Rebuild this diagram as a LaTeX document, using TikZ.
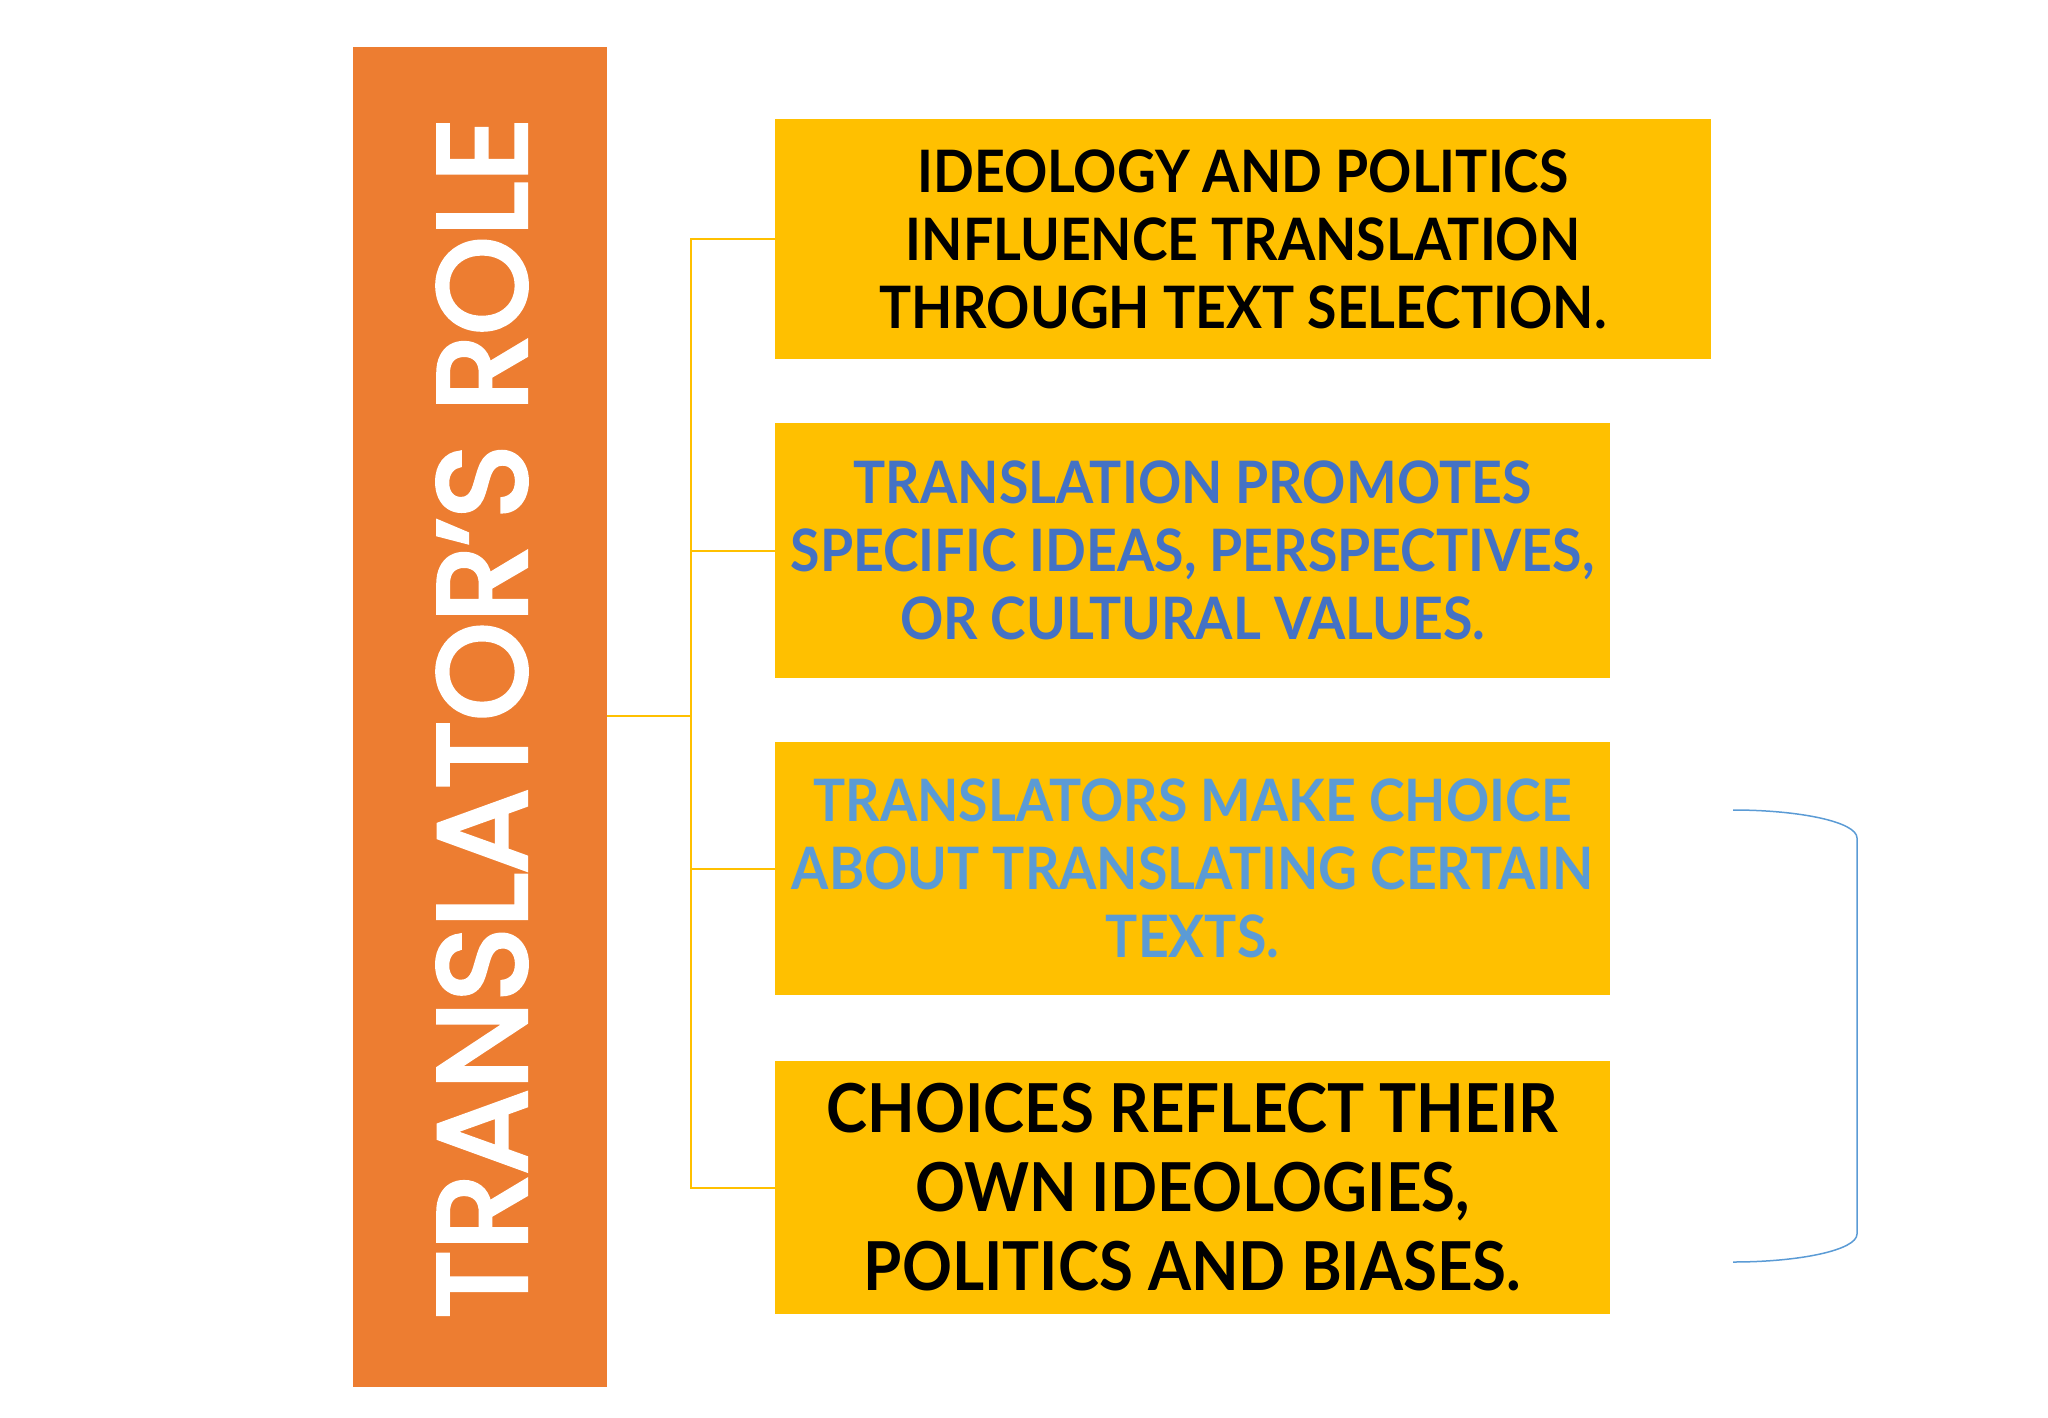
\documentclass[tikz,border=0pt]{standalone}
\usepackage{fontspec}
\setmainfont{Lato}[FakeStretch=0.917]
\newfontfamily\titlefont[FakeBold=3.5]{Poppins}
\usetikzlibrary{calc}
\definecolor{barorange}{HTML}{ED7D31}
\definecolor{boxgold}{HTML}{FFC000}
\definecolor{darkblue}{HTML}{4472C4}
\definecolor{lightblue}{HTML}{5B9BD5}
\tikzset{
  rolebox/.style={fill=boxgold, inner sep=0pt, align=center, font=\bfseries\fontsize{58.5}{68}\selectfont},
  branch/.style={draw=boxgold, line width=2pt}
}

\begin{document}
\begin{tikzpicture}[x=1pt,y=-1pt]
				  \useasboundingbox (0,0) rectangle (2048,1418);
				  %TITLE BAR
				  \node[fill=barorange, minimum width=254pt, minimum height=1340pt, inner sep=0pt] (bar) at (480,717) {};
				  \node[rotate=90, text=white, inner sep=0pt, font=\titlefont\fontsize{125.5}{125.5}\selectfont] (title) at (482,718) {TRANSLATOR’S ROLE};
				  %BOXES
				  \node[rolebox, minimum width=936pt, minimum height=240pt] (b1) at (1243,239) {IDEOLOGY AND POLITICS\\INFLUENCE TRANSLATION\\THROUGH TEXT SELECTION.};
				  \node[rolebox, minimum width=835pt, minimum height=255pt, text=darkblue] (b2) at (1192.5,550.5) {TRANSLATION PROMOTES\\SPECIFIC IDEAS, PERSPECTIVES,\\OR CULTURAL VALUES.};
				  \node[rolebox, minimum width=835pt, minimum height=253pt, text=lightblue] (b3) at (1192.5,868.5) {TRANSLATORS MAKE CHOICE\\ABOUT TRANSLATING CERTAIN\\TEXTS.};
				  \node[rolebox, minimum width=835pt, minimum height=253pt, font=\bfseries\fontsize{67.5}{79}\selectfont] (b4) at (1192.5,1187.5) {CHOICES REFLECT THEIR\\OWN IDEOLOGIES,\\POLITICS AND BIASES.};
				  %CONNECTORS
				  \coordinate (hub) at (691,716);
				  \draw[branch] (bar.east |- hub) -- (hub);
				  \draw[branch] (b1.west) -| (hub);
				  \draw[branch] (b2.west) -| (hub);
				  \draw[branch] (b3.west) -| (hub);
				  \draw[branch] (b4.west) -| (hub);
				  %BRACKET
				  \coordinate (t) at (1733,810);
				  \coordinate (s) at (1733,1262);
				  \draw[lightblue, line width=1.5pt] (t) .. controls (1800,810) and (1857,822) .. (1857,838) -- (1857,1234) .. controls (1857,1250) and (1800,1262) .. (s);
\end{tikzpicture}
\end{document}
